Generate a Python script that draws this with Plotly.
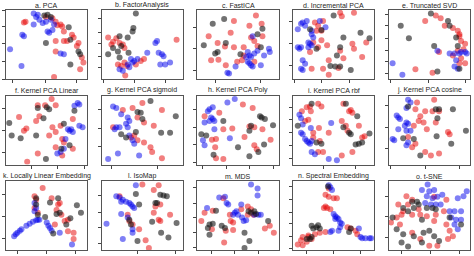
import plotly.graph_objects as go

# ---- data (normalised embedding coordinates, 0-100 per panel) ----
a_red = [(24,83),(22,82),(49,90),(57,88),(61,83),(63,78),(67,79),(69,76),(71,69),(81,64),(83,60),(75,55),(61,55),(71,55),(89,52),(87,48),(61,40),(93,31),(95,24),(91,14),(59,3)]
a_blue = [(34,95),(37,90),(41,86),(34,79),(45,81),(49,83),(39,93),(55,86),(57,71),(53,67),(51,69),(59,79),(20,64),(22,62),(67,37),(71,36),(5,43),(19,19)]
a_black = [(47,92),(51,93),(55,90),(77,75),(49,52),(89,40),(91,36),(79,21),(79,57)]

b_red = [(8,60),(18,59),(14,54),(22,52),(26,50),(12,50),(28,45),(28,24),(31,19),(24,19),(20,21),(29,5),(42,21),(48,26),(52,29),(92,57)]
b_blue = [(36,29),(38,24),(32,21),(34,17),(26,12),(22,14),(40,26),(44,29),(56,38),(66,52),(68,55),(70,38),(74,36),(76,33),(72,21),(78,21),(84,24)]
b_black = [(42,95),(39,74),(38,69),(32,60),(22,62),(24,48),(14,45),(20,40),(8,36),(22,31),(33,38)]

c_red = [(45,84),(72,92),(79,80),(14,62),(25,52),(17,27),(26,28),(34,47),(41,67),(45,46),(55,27),(57,46),(66,60),(70,55),(80,62),(74,48),(57,34),(35,20),(49,25),(70,25),(64,77)]
c_blue = [(37,9),(39,8),(47,18),(68,62),(62,39),(64,34),(66,32),(70,37),(74,41),(88,44),(89,39),(62,25),(64,23),(66,20),(68,18),(78,20),(82,34),(60,32)]
c_black = [(19,80),(33,87),(35,52),(25,39),(22,37),(8,49),(80,73),(53,36),(78,46),(74,65)]

d_red = [(27,82),(31,77),(29,70),(35,70),(37,84),(58,96),(60,91),(75,96),(25,53),(35,56),(31,46),(42,49),(21,39),(58,41),(73,51),(75,44),(90,53),(85,32),(62,30),(44,27),(23,15),(37,15),(56,16),(44,6)]
d_blue = [(12,82),(17,84),(10,80),(15,77),(6,72),(23,65),(25,60),(19,53),(21,51),(23,49),(6,46),(8,44),(10,46),(19,46),(12,27),(15,22),(10,15),(12,13),(40,75),(33,84),(23,70)]
d_black = [(50,92),(21,72),(35,71),(29,44),(62,60),(83,67),(94,59),(58,46),(54,34),(46,19),(52,18),(71,13),(58,18)]

e_red = [(58,92),(45,84),(64,88),(69,77),(79,74),(85,70),(87,65),(85,41),(92,43),(79,34),(89,30),(94,23),(87,23),(54,9),(33,14),(62,39),(94,51),(89,55),(87,62)]
e_blue = [(75,37),(81,37),(87,37),(94,39),(96,37),(60,41),(5,23),(17,6),(83,27),(81,18),(89,39),(85,15)]
e_black = [(52,95),(15,77),(25,59),(73,84),(75,77),(56,48),(60,11),(83,60),(85,48),(87,15)]

f_red = [(56,95),(39,86),(48,86),(61,86),(16,69),(41,70),(37,63),(25,52),(22,49),(57,54),(67,56),(82,66),(53,42),(61,47),(69,37),(71,32),(61,25),(39,16),(26,4),(69,13),(82,23)]
f_blue = [(88,89),(90,87),(84,85),(76,51),(78,49),(80,51),(82,47),(90,56),(94,54),(73,37),(67,18),(71,23),(63,16)]
f_black = [(39,82),(50,83),(53,80),(46,67),(84,78),(4,60),(7,42),(18,38),(37,42),(71,59),(68,23),(78,28),(49,8)]

g_red = [(14,54),(26,79),(38,82),(50,89),(44,68),(52,61),(64,56),(40,42),(36,39),(44,35),(52,32),(60,25),(62,18),(74,79),(74,9)]
g_blue = [(14,84),(18,82),(24,73),(32,68),(34,63),(30,59),(32,54),(18,54),(22,54),(16,51),(34,42),(38,35),(40,30),(8,8),(20,16),(46,13)]
g_black = [(44,76),(48,75),(60,92),(50,66),(24,44),(30,39),(42,47),(91,70),(73,46),(84,46)]

h_red = [(27,75),(56,87),(68,82),(9,70),(32,51),(43,52),(23,37),(18,36),(22,25),(23,9),(32,8),(58,40),(70,54),(80,51),(90,36),(70,28),(73,22),(64,55)]
h_blue = [(37,90),(46,95),(15,80),(19,83),(13,77),(17,68),(19,66),(15,63),(21,63),(9,61),(21,51),(40,38),(7,35),(9,28)]
h_black = [(32,63),(5,44),(11,42),(50,25),(20,14),(64,12),(77,70),(79,68),(83,66),(66,56),(64,49),(93,57),(82,29),(75,18)]

i_red = [(11,77),(17,83),(21,84),(31,88),(35,84),(22,77),(62,88),(71,79),(73,75),(69,77),(19,65),(15,63),(32,53),(44,46),(25,46),(60,63),(65,56),(67,49),(81,56),(85,39),(88,41),(73,18),(60,13),(31,18),(37,18),(33,34),(25,39)]
i_blue = [(8,72),(10,67),(47,60),(22,53),(10,46),(12,44),(15,37),(17,34),(19,32),(21,30),(23,18),(27,15),(44,8),(54,6),(12,58),(23,34)]
i_black = [(23,88),(65,88),(79,70),(6,56),(62,54),(69,46),(71,44),(94,45),(81,30),(77,29),(35,30),(29,32),(85,32)]

j_red = [(35,90),(56,94),(33,80),(39,70),(45,77),(54,77),(37,63),(43,61),(47,51),(58,61),(62,77),(73,47),(75,44),(24,40),(45,18),(52,13),(62,16),(29,25),(33,30),(31,56)]
j_blue = [(24,94),(27,90),(22,82),(10,71),(12,68),(14,66),(22,61),(24,59),(20,56),(22,49),(27,49),(12,51),(5,37),(7,35),(24,32),(22,28)]
j_black = [(24,84),(58,80),(62,80),(79,80),(60,67),(39,13),(59,41),(95,49),(77,30),(31,37),(18,38)]

k_red = [(45,90),(35,78),(37,73),(35,61),(39,54),(56,75),(64,66),(66,68),(62,58),(68,51),(60,37),(76,27),(83,25),(83,16),(72,42),(76,44)]
k_blue = [(10,20),(12,23),(14,25),(17,28),(19,30),(25,35),(29,38),(33,41),(37,43),(39,44),(41,44),(35,56),(37,61),(35,68),(50,40),(52,35),(54,32),(56,28),(66,25),(81,8)]
k_black = [(54,69),(64,75),(37,66),(39,51),(48,48),(62,52),(66,54),(74,37),(87,65),(92,54),(79,46),(58,24),(37,75)]

l_red = [(50,95),(64,87),(22,78),(32,51),(34,42),(38,37),(46,30),(54,14),(58,3),(66,63),(64,54),(70,94),(72,66),(84,51),(70,44),(72,42)]
l_blue = [(42,94),(18,78),(22,76),(26,73),(30,70),(34,68),(36,66),(38,63),(24,70),(40,61),(6,38),(24,52),(32,47),(38,30),(26,16),(38,25)]
l_black = [(42,81),(46,66),(34,44),(36,37),(62,41),(66,68),(44,13),(72,80),(76,79),(80,78),(68,68),(92,39),(73,25),(82,18)]

m_red = [(32,75),(9,54),(5,42),(19,57),(40,51),(41,42),(44,40),(62,63),(66,59),(69,51),(62,51),(54,59),(35,28),(44,29),(33,11),(83,31),(89,35),(94,25),(18,30)]
m_blue = [(66,95),(74,89),(74,79),(27,76),(34,77),(36,68),(38,66),(12,61),(46,54),(48,56),(44,51),(50,51),(55,47),(57,42),(60,43),(70,51),(75,51),(78,51),(54,66)]
m_black = [(23,57),(15,37),(19,38),(13,32),(30,35),(34,32),(15,22),(87,42),(64,13),(58,3),(58,25),(63,56),(66,54),(72,52),(70,56)]

n_red = [(40,80),(44,77),(50,75),(54,75),(40,63),(42,61),(38,61),(46,59),(67,33),(71,31),(77,28),(79,23),(40,26),(33,25),(27,23),(19,21),(12,19),(10,14),(6,8),(12,7),(17,12),(23,16),(19,19),(44,89)]
n_blue = [(44,94),(46,91),(48,87),(50,52),(52,49),(54,47),(56,45),(52,45),(58,40),(60,38),(58,33),(56,28),(48,28),(46,26),(81,31),(83,19),(85,17),(89,17),(94,17),(96,17)]
n_black = [(43,92),(23,35),(25,31),(29,33),(31,36),(33,31),(21,16),(17,16),(23,19),(71,31),(69,26)]

o_red = [(3,40),(10,47),(12,66),(18,56),(22,78),(29,73),(24,66),(16,51),(14,37),(29,51),(37,59),(39,51),(47,49),(56,77),(71,73),(68,56),(58,51),(56,42),(71,37),(29,25),(39,16),(50,6),(73,16),(75,28),(79,20),(60,6)]
o_blue = [(48,95),(41,87),(50,85),(56,87),(47,78),(54,75),(60,77),(66,80),(45,68),(52,66),(58,66),(64,66),(75,56),(81,56),(89,56),(96,85),(92,78),(85,75),(83,44),(89,44),(77,47),(81,37),(85,30)]
o_black = [(5,47),(10,30),(18,61),(24,56),(31,61),(29,70),(35,70),(37,66),(47,61),(54,61),(58,59),(41,44),(50,28),(56,20),(43,25),(18,23),(31,20),(16,11),(24,5),(41,11),(62,13),(75,47),(89,37)]

TITLES = ["a. PCA", "b. FactorAnalysis", "c. FastICA", "d. Incremental PCA", "e. Truncated SVD",
          "f. Kernel PCA Linear", "g. Kernel PCA sigmoid", "h. Kernel PCA Poly", "i. Kernel PCA rbf", "j. Kernel PCA cosine",
          "k. Locally Linear Embedding", "l. IsoMap", "m. MDS", "n. Spectral Embedding", "o. t-SNE"]

PANELS = [(a_red, a_blue, a_black), (b_red, b_blue, b_black), (c_red, c_blue, c_black),
          (d_red, d_blue, d_black), (e_red, e_blue, e_black), (f_red, f_blue, f_black),
          (g_red, g_blue, g_black), (h_red, h_blue, h_black), (i_red, i_blue, i_black),
          (j_red, j_blue, j_black), (k_red, k_blue, k_black), (l_red, l_blue, l_black),
          (m_red, m_blue, m_black), (n_red, n_blue, n_black), (o_red, o_blue, o_black)]

XTICKS = [[8,48,87],[2,40,78],[22,78],[2,35,69],[3,49,94],
          [31,63,96],[12,69],[7,36,64,93],[37,77],[3,45,87],
          [14,50,85],[44,91],[17,46,75],[17,50,83],[16,52,87]]
YTICKS = [[0,25,51,76,100],[16,33,52,67,87],[12,44,75],[19,51,83],[8,25,42,59,77,93],
          [18,49,81],[26,52,79],[3,29,54,79],[8,27,46,65,83],[23,54,85],
          [16,48,80],[9,32,55,79],[4,25,47,68,90],[2,20,38,55,73,92],[18,48,78]]

COLORS = ["rgba(230,0,0,0.5)", "rgba(0,0,235,0.5)", "rgba(20,20,20,0.6)"]

W, H = 474, 256
ML, MR, MT, MB = 4, 3, 10, 6
PW, PH = 82, 69
GX = (W - ML - MR - 5 * PW) / 4
GY = (H - MT - MB - 3 * PH) / 2
AW, AH = W - ML - MR, H - MT - MB

fig = go.Figure()
for i, (title, groups) in enumerate(zip(TITLES, PANELS)):
    r, c = divmod(i, 5)
    n = "" if i == 0 else str(i + 1)
    x0 = c * (PW + GX) / AW
    x1 = (c * (PW + GX) + PW) / AW
    y1 = 1 - r * (PH + GY) / AH
    y0 = 1 - (r * (PH + GY) + PH) / AH
    for pts, col in zip(groups, COLORS):
        fig.add_trace(go.Scatter(
            x=[p[0] for p in pts], y=[p[1] for p in pts], mode="markers",
            marker=dict(size=6, color=col, line=dict(width=0)),
            xaxis="x" + n, yaxis="y" + n, showlegend=False, hoverinfo="skip"))
    common = dict(range=[0, 100], showgrid=False, zeroline=False, showticklabels=False,
                  ticks="outside", ticklen=3, tickwidth=1, tickcolor="#444444",
                  showline=True, linecolor="#555555", linewidth=1, mirror=True, fixedrange=True)
    fig.update_layout(**{
        "xaxis" + n: dict(domain=[x0, x1], anchor="y" + n, tickvals=XTICKS[i], **common),
        "yaxis" + n: dict(domain=[y0, y1], anchor="x" + n, tickvals=YTICKS[i], **common),
    })
    fig.add_annotation(text=title, xref="paper", yref="paper", x=(x0 + x1) / 2, y=y1,
                       xanchor="center", yanchor="bottom", yshift=-1, showarrow=False,
                       font=dict(family="Liberation Sans, Arial, sans-serif", size=7,
                                 color="rgb(30,30,30)"))

fig.update_layout(width=W, height=H, margin=dict(l=ML, r=MR, t=MT, b=MB),
                  paper_bgcolor="white", plot_bgcolor="white",
                  font=dict(color="rgb(30,30,30)"))
fig.write_html("out.html")
